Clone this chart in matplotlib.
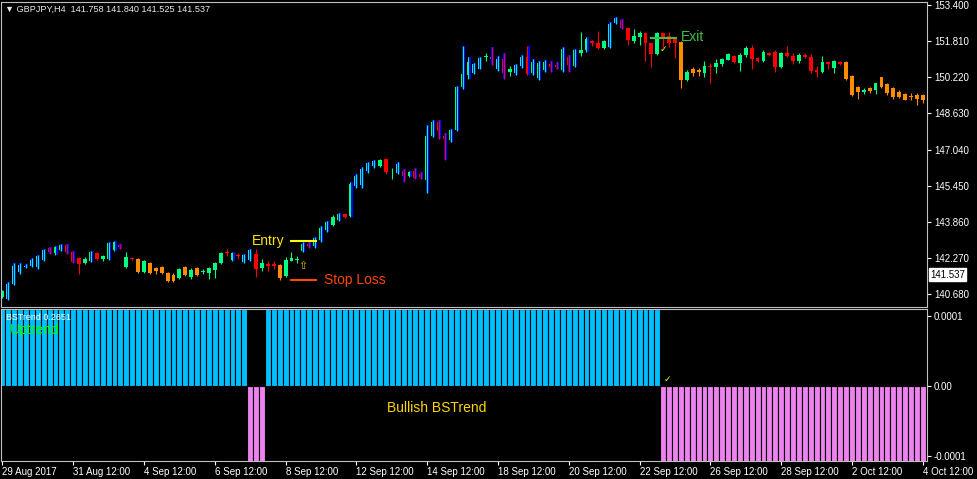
import matplotlib.pyplot as plt
import numpy as np

plt.rcParams['font.family'] = ['Liberation Sans', 'DejaVu Sans']

# GBPJPY H4 candles
opens = [140.57, 140.50, 141.15, 141.65, 141.90, 141.93, 141.90, 142.20, 142.70, 142.50,
         142.65, 142.85, 142.55, 142.30, 142.06, 142.15, 142.52, 142.22, 142.25, 142.65,
         142.86, 141.89, 142.30, 142.25, 141.66, 142.08, 141.85, 141.90, 141.62, 141.55,
         141.40, 141.90, 141.45, 141.85, 141.68, 141.62, 141.75, 142.06, 142.52, 142.20,
         142.42, 142.10, 142.20, 142.46, 141.85, 142.00, 142.00, 141.98, 141.50, 142.15,
         142.20, 142.60, 142.90, 142.80, 143.05, 143.50, 143.75, 143.95, 144.20, 144.12,
         145.45, 145.50, 146.10, 146.30, 146.32, 146.62, 146.00, 146.00, 146.10, 145.90,
         146.10, 145.95, 145.70, 147.65, 148.25, 147.64, 147.45, 147.90, 149.79, 150.30,
         150.40, 150.60, 151.10, 151.10, 150.60, 151.02, 150.45, 150.40, 150.70, 151.11,
         150.40, 150.20, 150.55, 150.80, 150.75, 150.55, 151.10, 150.70, 151.28, 151.40,
         151.80, 151.72, 151.50, 151.55, 152.60, 152.75, 152.38, 151.81, 151.99, 152.16,
         151.72, 151.24, 152.16, 152.03, 151.94, 151.77, 150.10, 150.60, 150.55, 150.41,
         150.70, 150.67, 150.80, 150.98, 151.15, 150.84, 151.20, 151.50, 151.06, 150.93,
         151.30, 151.33, 150.67, 151.28, 151.15, 150.93, 151.20, 151.11, 150.54, 150.45,
         150.89, 150.62, 150.89, 150.89, 150.27, 149.79, 149.57, 149.75, 149.66, 150.23,
         149.92, 149.75, 149.57, 149.48, 149.40, 149.44, 149.44]
highs = [140.87, 141.23, 142.06, 142.06, 142.02, 142.28, 142.42, 142.68, 142.77, 142.81,
         142.90, 142.90, 142.59, 142.33, 142.33, 142.59, 142.55, 142.42, 142.99, 143.03,
         142.90, 142.55, 142.33, 142.28, 142.19, 142.11, 141.89, 141.93, 141.67, 141.62,
         141.84, 141.93, 141.84, 141.89, 141.80, 141.89, 142.11, 142.55, 142.68, 142.55,
         142.50, 142.46, 142.68, 142.68, 142.24, 142.15, 142.15, 142.02, 142.33, 142.55,
         142.37, 142.99, 142.99, 143.21, 143.69, 143.91, 144.17, 144.26, 144.26, 145.62,
         145.97, 146.28, 146.50, 146.59, 146.63, 146.67, 146.23, 146.50, 146.19, 146.10,
         146.23, 146.06, 148.12, 148.34, 148.34, 147.77, 147.95, 149.83, 151.59, 151.11,
         150.84, 151.11, 151.28, 151.55, 151.15, 151.28, 150.71, 150.80, 151.20, 151.59,
         151.02, 150.93, 150.98, 150.93, 150.89, 151.55, 151.20, 151.46, 152.21, 151.99,
         151.85, 152.25, 151.85, 152.64, 152.86, 152.78, 152.42, 152.34, 152.25, 152.21,
         151.72, 152.21, 152.21, 152.21, 151.99, 151.81, 150.54, 150.67, 150.62, 150.93,
         150.84, 151.02, 151.06, 151.28, 151.20, 151.28, 151.59, 151.63, 151.11, 151.41,
         151.33, 151.41, 151.33, 151.59, 151.28, 151.28, 151.28, 151.24, 150.71, 151.15,
         150.93, 150.98, 150.93, 150.93, 150.32, 149.83, 149.75, 149.79, 149.97, 150.23,
         149.97, 149.79, 149.66, 149.53, 149.53, 149.53, 149.48]
lows = [140.53, 140.44, 141.10, 141.58, 141.84, 141.89, 141.80, 142.15, 142.46, 142.42,
        142.59, 142.46, 142.06, 141.58, 142.02, 142.11, 142.19, 142.15, 142.19, 142.59,
        142.68, 141.84, 142.19, 141.62, 141.62, 141.58, 141.58, 141.58, 141.23, 141.23,
        141.36, 141.49, 141.36, 141.49, 141.58, 141.36, 141.41, 142.02, 142.37, 142.15,
        142.24, 142.06, 142.15, 141.45, 141.71, 141.71, 141.80, 141.32, 141.45, 142.15,
        142.06, 142.55, 142.72, 142.72, 142.99, 143.43, 143.69, 143.91, 144.04, 144.08,
        145.36, 145.36, 146.02, 146.24, 146.28, 145.97, 145.75, 145.97, 145.62, 145.84,
        145.75, 145.75, 145.14, 147.60, 147.51, 146.58, 147.38, 147.86, 149.70, 150.14,
        150.36, 150.58, 150.93, 150.76, 150.49, 150.14, 150.27, 150.32, 150.62, 150.32,
        150.32, 150.10, 150.45, 150.45, 150.58, 150.45, 150.45, 150.67, 151.15, 151.33,
        151.59, 151.46, 151.46, 151.50, 152.55, 152.34, 151.63, 151.72, 151.63, 150.93,
        150.67, 151.20, 151.55, 151.55, 151.06, 149.75, 150.05, 150.27, 150.27, 150.23,
        149.97, 150.41, 150.71, 150.98, 150.84, 150.49, 151.11, 150.58, 150.89, 150.89,
        151.15, 150.45, 150.62, 151.11, 150.80, 150.84, 151.06, 150.41, 150.23, 150.41,
        150.58, 150.41, 150.76, 150.10, 149.40, 149.26, 149.48, 149.53, 149.48, 149.75,
        149.44, 149.26, 149.31, 149.22, 149.22, 149.00, 149.09]
closes = [140.83, 141.15, 141.95, 141.98, 141.95, 142.20, 142.35, 142.62, 142.55, 142.75,
          142.85, 142.55, 142.12, 142.02, 142.25, 142.55, 142.22, 142.35, 142.92, 142.98,
          142.75, 142.33, 142.22, 141.66, 142.15, 141.62, 141.70, 141.62, 141.27, 141.27,
          141.80, 141.52, 141.75, 141.52, 141.72, 141.84, 142.06, 142.50, 142.50, 142.50,
          142.35, 142.40, 142.62, 141.80, 142.06, 141.95, 141.95, 141.40, 142.19, 142.28,
          142.25, 142.90, 142.80, 143.15, 143.60, 143.85, 144.10, 144.20, 144.10, 145.55,
          145.90, 146.20, 146.45, 146.55, 146.58, 146.05, 146.00, 146.40, 145.90, 146.05,
          145.80, 145.85, 147.64, 148.25, 147.85, 147.51, 147.90, 149.80, 150.36, 150.90,
          150.80, 151.05, 151.15, 151.02, 151.00, 150.40, 150.60, 150.75, 151.10, 150.36,
          150.90, 150.85, 150.90, 150.65, 150.65, 151.45, 150.76, 151.40, 151.41, 151.90,
          151.70, 151.50, 151.80, 152.55, 152.80, 152.40, 151.85, 152.03, 152.16, 151.72,
          151.24, 152.16, 151.99, 151.72, 151.72, 150.10, 150.45, 150.40, 150.45, 150.71,
          150.66, 150.84, 151.00, 151.24, 150.89, 151.20, 151.50, 151.02, 150.95, 151.33,
          151.20, 150.67, 151.28, 151.15, 150.93, 151.20, 151.10, 150.49, 150.45, 150.89,
          150.80, 150.93, 150.80, 150.14, 149.44, 149.57, 149.66, 149.62, 149.97, 149.79,
          149.53, 149.35, 149.35, 149.22, 149.36, 149.26, 149.22]

blue_bars = [1, 2, 3, 4, 5, 6, 7, 8, 9, 10, 11, 12, 15, 18, 19, 20, 39, 41, 42,
             51, 52, 53, 54, 55, 57, 59, 60, 61, 62, 63, 67, 68, 69, 70, 71, 72, 73,
             74, 75, 76, 77, 78, 79, 80, 81, 83, 84, 85, 87, 88, 89, 90, 91, 92, 93,
             94, 95, 96, 97, 99, 103, 104, 105]
orange_bars = [23, 25, 26, 27, 28, 29, 31, 33, 47, 115, 117, 118, 143, 144, 145,
               147, 149, 150, 151, 152, 153, 154, 155, 156]

# BSTrend histogram as runs of (bar count, direction)
trend_runs = [(42, 1), (3, -1), (67, 1), (45, -1)]
trend_level = 1.1e-4

date_labels = ["29 Aug 2017", "31 Aug 12:00", "4 Sep 12:00", "6 Sep 12:00", "8 Sep 12:00",
               "12 Sep 12:00", "14 Sep 12:00", "18 Sep 12:00", "20 Sep 12:00", "22 Sep 12:00",
               "26 Sep 12:00", "28 Sep 12:00", "2 Oct 12:00", "4 Oct 12:00"]
price_ticks = [153.400, 151.810, 150.220, 148.630, 147.040, 145.450, 143.860, 142.270, 140.680]
last_price = 141.537
entry_price, stop_price, exit_price = 143.03, 141.32, 151.94

W, H = 977, 479
fig = plt.figure(figsize=(W / 100, H / 100), dpi=100, facecolor='black')


def box(x0, y0, x1, y1):
    return [x0 / W, 1 - y1 / H, (x1 - x0) / W, (y1 - y0) / H]


ax = fig.add_axes(box(1, 2, 927, 307), facecolor='black')
axi = fig.add_axes(box(1, 309, 927, 461), facecolor='black', sharex=ax)

o = np.array(opens); h = np.array(highs); l = np.array(lows); c = np.array(closes)
x = np.arange(len(o))

cols = np.where(c >= o, '#00FF7F', '#FF0000').astype(object)
cols[orange_bars] = '#FF8C00'

ax.vlines(x, l, h, colors=list(cols), lw=0.8)
body = np.maximum(np.abs(c - o), 0.03)
ax.bar(x, body, bottom=np.minimum(o, c), width=0.66, color=list(cols), lw=0)
bb = np.array(blue_bars)
ax.bar(bb + 0.1, h[bb] - l[bb], bottom=l[bb], width=0.5, color='#0000FF', lw=0)

# trade annotations
ax.plot([48.9, 53.2], [entry_price, entry_price], color='#FFFF00', lw=1.5)
ax.text(47.9, entry_price, "Entry", color='#FFE600', fontsize=10, ha='right', va='center')
ax.plot([48.9, 53.1], [stop_price, stop_price], color='#FF4500', lw=1.5)
ax.text(54.5, stop_price, "Stop Loss", color='#FF4500', fontsize=10, ha='left', va='center')
ax.plot([109.9, 114.2], [exit_price, exit_price], color='#40C040', lw=1.5)
ax.text(115.0, exit_price + 0.03, "Exit", color='#40C040', fontsize=10, ha='left', va='center')
ax.text(51.0, 141.93, "\u21e7", color='#E0C000', fontsize=8, ha='center', va='center',
        family='DejaVu Sans')
ax.text(112.0, 151.42, "\u2713", color='#FFFF00', fontsize=6.5, ha='center', va='center',
        family='DejaVu Sans')

ax.set_xlim(-0.23, 156.72)
ax.set_ylim(140.13, 153.52)
ax.yaxis.tick_right()
ax.set_yticks(price_ticks)
ax.set_yticklabels([f"{p:.3f}" for p in price_ticks])
ax.tick_params(axis='y', colors='white', length=3, labelsize=7, pad=2)
ax.tick_params(axis='x', bottom=False, labelbottom=False)
ax.text(1 + 3 / 926, last_price, f"{last_price:.3f}", transform=ax.get_yaxis_transform(),
        color='black', fontsize=7, ha='left', va='center',
        bbox=dict(boxstyle='square,pad=0.15', fc='white', ec='white'))

# indicator panel
trend = np.repeat([d for _, d in trend_runs], [n for n, _ in trend_runs]) * trend_level
tcols = np.where(trend > 0, '#00BFFF', '#EE82EE')
axi.bar(x, trend, width=1.0, color=list(tcols), edgecolor='black', lw=0.8)
axi.set_ylim(-1.071e-4, 1.1e-4)
axi.yaxis.tick_right()
axi.set_yticks([1e-4, 0, -1e-4])
axi.set_yticklabels(["0.0001", "0.00", "-0.0001"])
axi.tick_params(axis='y', colors='white', length=3, labelsize=7, pad=2)
axi.set_xticks(np.arange(0, len(o), 12))
axi.set_xticklabels(date_labels)
axi.tick_params(axis='x', colors='white', length=3, labelsize=7, pad=1)
for t in axi.get_xticklabels():
    t.set_ha('left')
axi.text(0.005, 1 - 8 / 152, "BSTrend 0.2651", transform=axi.transAxes, color='white',
         fontsize=6.4, ha='left', va='center')
axi.text(0.01, 1 - 21 / 152, "Uptrend", transform=axi.transAxes, color='#00FF00',
         fontsize=10, ha='left', va='center')
axi.text(73.6, -0.31e-4, "Bullish BSTrend", color='#FFD700', fontsize=10, ha='center', va='center')
axi.text(112.8, 0.1e-4, "\u2713", color='#FFFF00', fontsize=6.5, ha='center', va='center',
         family='DejaVu Sans')

for a in (ax, axi):
    for s in a.spines.values():
        s.set_color('#C0C0C0')
        s.set_linewidth(0.8)

fig.text(5 / W, 1 - 9 / H, "\u25bc GBPJPY,H4  141.758 141.840 141.525 141.537",
         color='#E8E8E8', fontsize=6.6, ha='left', va='center')

fig.savefig('out.png', dpi=100, facecolor='black')
